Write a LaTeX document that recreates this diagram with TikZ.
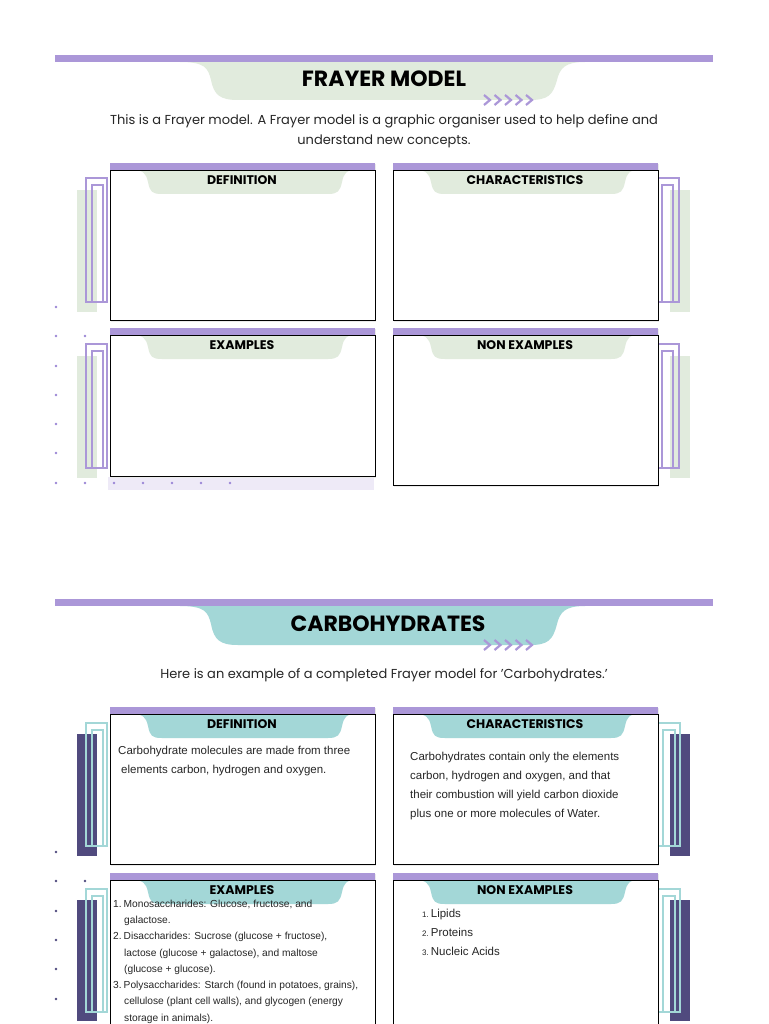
\documentclass[tikz,border=0pt]{standalone}
\usepackage{fontspec}
\setmainfont{Liberation Sans}
\newfontfamily\pop{Poppins}
\definecolor{lav}{HTML}{AB97D8}
\definecolor{lavlight}{HTML}{EEEAF7}
\definecolor{sage}{HTML}{E1EBDD}
\definecolor{teal}{HTML}{A3D7D7}
\definecolor{navy}{HTML}{504A7E}
\definecolor{dotc}{HTML}{9B86D6}
\newcommand\frybox[6]{% x y h label tabcolor name
  \fill[black!8] (#1+1,#2+1) rectangle (#1+266,#2+#3+2);
  \fill[white] (#1,#2) rectangle (#1+265,#2+#3);
  \fill[#5] (#1+22,#2+7) .. controls (#1+33,#2+7) and (#1+36,#2+10) .. (#1+38,#2+19)
     .. controls (#1+40,#2+29) and (#1+42,#2+31) .. (#1+52,#2+31) -- (#1+218,#2+31)
     .. controls (#1+228,#2+31) and (#1+230,#2+28) .. (#1+232,#2+19)
     .. controls (#1+234,#2+10) and (#1+236,#2+7) .. (#1+247,#2+7) -- cycle;
  \draw[black, line width=0.9pt] (#1,#2+7) rectangle (#1+265,#2+#3);
  \fill[lav] (#1,#2) rectangle (#1+265,#2+7);
  \node[font=\pop\bfseries\fontsize{12.5}{14}\selectfont] (#6) at (#1+132,#2+17.5) {#4};
}
\newcommand\deco[5]{% x y outline-color fill-color fill-on-top(0/1)
  \fill[#4] (#1-9,#2+12) rectangle (#1+11,#2+134);
  \draw[#3, line width=2pt] (#1,#2) rectangle (#1+21,#2+124);
  \draw[#3, line width=2pt] (#1+6,#2+7) rectangle (#1+17,#2+124);
}
\newcommand\decoR[4]{% right-side variant
  \fill[#4] (#1+12,#2+12) rectangle (#1+32,#2+134);
  \draw[#3, line width=2pt] (#1,#2) rectangle (#1+21,#2+124);
  \draw[#3, line width=2pt] (#1+4,#2+7) rectangle (#1+15,#2+124);
}
\newcommand\chev[2]{\foreach \i in {0,...,4}{\draw[lav, line width=2.2pt] (#1+\i*10.5,#2-5) -- (#1+\i*10.5+6,#2) -- (#1+\i*10.5,#2+5);}}
\begin{document}
\begin{tikzpicture}[x=1pt,y=-1pt,
  desc/.style={font=\pop\fontsize{13}{20}\selectfont, align=center, text=black!85},
  body/.style={font=\fontsize{11.5}{19}\selectfont, align=left, anchor=north west, inner sep=0pt, text=black!85}]
\useasboundingbox (0,0) rectangle (768,1024);
\fill[white] (0,0) rectangle (768,1024);
% ===== TOP =====
\fill[sage] (180,62) .. controls (205,62) and (208,68) .. (211,80) .. controls (214,95) and (220,100) .. (238,100)
  -- (530,100) .. controls (548,100) and (553,95) .. (557,80) .. controls (560,68) and (565,62) .. (585,62) -- cycle;
\fill[lav] (55,55) rectangle (713,62);
\node[font=\pop\bfseries\fontsize{22}{24}\selectfont] (t1) at (384,79) {FRAYER MODEL};
\chev{484}{100}
\node[desc] (d1) at (384,131) {This is a Frayer model. A Frayer model is a graphic organiser used to help define and\\understand new concepts.};
\fill[lavlight] (108,477) rectangle (374,490);
\deco{86}{178}{lav}{sage}{0}
\deco{86}{344}{lav}{sage}{0}
\decoR{658}{178}{lav}{sage}
\decoR{658}{344}{lav}{sage}
\frybox{110}{163}{157}{DEFINITION}{sage}{h1}
\frybox{393}{163}{157}{CHARACTERISTICS}{sage}{h2}
\frybox{110}{328}{148}{EXAMPLES}{sage}{h3}
\frybox{393}{328}{157}{NON EXAMPLES}{sage}{h4}
\foreach \y in {307,336,366,395,424,453,483} \fill[dotc] (56,\y) circle (1.3);
\foreach \x in {85,114,143,172,201,230} \fill[dotc] (\x,483) circle (1.3);
\fill[dotc] (85,336) circle (1.3);
% ===== BOTTOM =====
\fill[teal] (180,606) .. controls (205,606) and (208,612) .. (211,624) .. controls (214,640) and (220,645) .. (238,645)
  -- (530,645) .. controls (548,645) and (553,640) .. (557,624) .. controls (560,612) and (565,606) .. (585,606) -- cycle;
\fill[lav] (55,599) rectangle (713,606);
\node[font=\pop\bfseries\fontsize{22}{24}\selectfont] (t2) at (388,624) {CARBOHYDRATES};
\chev{484}{645}
\node[desc] (d2) at (384,675) {Here is an example of a completed Frayer model for ’Carbohydrates.’};
\fill[navy] (77,734) rectangle (97,856);
\draw[teal, line width=2pt] (86,723) rectangle (107,846);
\draw[teal, line width=2pt] (92,730) rectangle (103,846);
\fill[navy] (77,900) rectangle (97,1021);
\draw[teal, line width=2pt] (86,889) rectangle (107,1012);
\draw[teal, line width=2pt] (92,896) rectangle (103,1012);
\fill[navy] (670,734) rectangle (690,856);
\draw[teal, line width=2pt] (658,723) rectangle (680,846);
\draw[teal, line width=2pt] (663,730) rectangle (675,846);
\fill[navy] (670,900) rectangle (690,1021);
\draw[teal, line width=2pt] (658,889) rectangle (680,1012);
\draw[teal, line width=2pt] (663,896) rectangle (675,1012);
\frybox{110}{707}{157}{DEFINITION}{teal}{g1}
\frybox{393}{707}{157}{CHARACTERISTICS}{teal}{g2}
\frybox{110}{873}{160}{EXAMPLES}{teal}{g3}
\frybox{393}{873}{160}{NON EXAMPLES}{teal}{g4}
\foreach \y in {852,881,911,940,969,999} \fill[navy] (56,\y) circle (1.3);
\fill[navy] (85,881) circle (1.3);
\node[body] (b1) at (118,746) {Carbohydrate molecules are made from three\\\hspace*{3pt}elements carbon, hydrogen and oxygen.};
\node[body] (b2) at (410,752) {Carbohydrates contain only the elements\\carbon, hydrogen and oxygen, and that\\their combustion will yield carbon dioxide\\plus one or more molecules of Water.};
\node[body, font=\fontsize{10.2}{16.3}\selectfont] (b3) at (113,899.5) {1.\hspace{2pt}Monosaccharides: Glucose, fructose, and\\\hspace*{11pt}galactose.\\
2.\hspace{2pt}Disaccharides: Sucrose (glucose + fructose),\\\hspace*{11pt}lactose (glucose + galactose), and maltose\\\hspace*{11pt}(glucose + glucose).\\
3.\hspace{2pt}Polysaccharides: Starch (found in potatoes, grains),\\\hspace*{11pt}cellulose (plant cell walls), and glycogen (energy\\\hspace*{11pt}storage in animals).};
\node[body, font=\fontsize{11.5}{19}\selectfont] (b4) at (422,909) {{\footnotesize 1.}\hspace{2pt}Lipids\\{\footnotesize 2.}\hspace{2pt}Proteins\\{\footnotesize 3.}\hspace{2pt}Nucleic Acids};
\end{tikzpicture}
\end{document}
